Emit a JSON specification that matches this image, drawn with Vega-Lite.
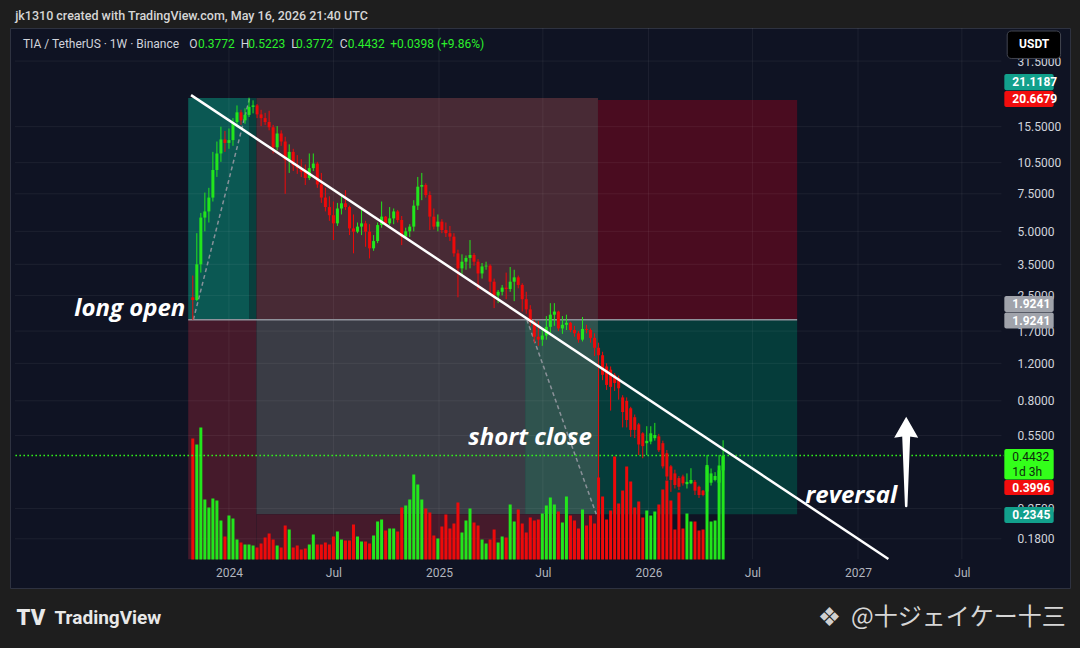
{
  "$schema": "https://vega.github.io/schema/vega-lite/v6.json",
  "width": 1060,
  "height": 560,
  "autosize": "none",
  "padding": {"left": 10, "top": 28, "right": 10, "bottom": 60},
  "background": "#1e1e1e",
  "config": {
    "view": {"fill": "#0f1323", "stroke": "#2e3240", "strokeWidth": 1},
    "font": "Roboto"
  },
  "datasets": {
    "candles": [
      {"d":"2023-10-30","o":2.45,"h":3.10,"l":1.92,"c":2.38,"v":121},
      {"d":"2023-11-06","o":2.38,"h":4.90,"l":2.35,"c":3.50,"v":115},
      {"d":"2023-11-13","o":3.50,"h":6.10,"l":3.20,"c":5.80,"v":132},
      {"d":"2023-11-20","o":5.80,"h":7.60,"l":5.00,"c":6.20,"v":60},
      {"d":"2023-11-27","o":6.20,"h":8.00,"l":5.50,"c":7.20,"v":52},
      {"d":"2023-12-04","o":7.20,"h":11.80,"l":6.90,"c":9.70,"v":61},
      {"d":"2023-12-11","o":9.70,"h":13.20,"l":9.00,"c":11.60,"v":59},
      {"d":"2023-12-18","o":11.60,"h":15.50,"l":10.60,"c":13.50,"v":39},
      {"d":"2023-12-25","o":13.50,"h":14.80,"l":11.80,"c":13.00,"v":23},
      {"d":"2024-01-01","o":13.00,"h":15.20,"l":12.20,"c":13.40,"v":44},
      {"d":"2024-01-08","o":13.40,"h":17.00,"l":12.60,"c":16.30,"v":41},
      {"d":"2024-01-15","o":16.30,"h":19.50,"l":15.40,"c":18.10,"v":20},
      {"d":"2024-01-22","o":18.10,"h":18.60,"l":15.80,"c":16.60,"v":17},
      {"d":"2024-01-29","o":16.60,"h":18.90,"l":16.00,"c":17.60,"v":15},
      {"d":"2024-02-05","o":17.60,"h":21.20,"l":17.20,"c":19.20,"v":15},
      {"d":"2024-02-12","o":19.20,"h":20.60,"l":17.90,"c":19.50,"v":14},
      {"d":"2024-02-19","o":19.50,"h":19.80,"l":17.00,"c":17.70,"v":12},
      {"d":"2024-02-26","o":17.70,"h":18.60,"l":15.60,"c":17.00,"v":16},
      {"d":"2024-03-04","o":17.00,"h":18.00,"l":15.80,"c":16.30,"v":22},
      {"d":"2024-03-11","o":16.30,"h":18.40,"l":14.90,"c":15.40,"v":26},
      {"d":"2024-03-18","o":15.40,"h":15.80,"l":11.60,"c":12.40,"v":20},
      {"d":"2024-03-25","o":12.40,"h":15.60,"l":12.00,"c":14.40,"v":14},
      {"d":"2024-04-01","o":14.40,"h":14.90,"l":12.60,"c":13.20,"v":12},
      {"d":"2024-04-08","o":13.20,"h":13.90,"l":7.50,"c":10.80,"v":34},
      {"d":"2024-04-15","o":10.80,"h":12.80,"l":9.40,"c":11.80,"v":30},
      {"d":"2024-04-22","o":11.80,"h":12.20,"l":9.60,"c":10.20,"v":12},
      {"d":"2024-04-29","o":10.20,"h":11.40,"l":9.30,"c":9.90,"v":14},
      {"d":"2024-05-06","o":9.90,"h":10.90,"l":9.00,"c":9.50,"v":10},
      {"d":"2024-05-13","o":9.50,"h":10.30,"l":8.25,"c":8.90,"v":11},
      {"d":"2024-05-20","o":8.90,"h":11.60,"l":8.70,"c":9.90,"v":15},
      {"d":"2024-05-27","o":9.90,"h":11.60,"l":9.60,"c":10.40,"v":25},
      {"d":"2024-06-03","o":10.40,"h":10.60,"l":8.00,"c":8.30,"v":15},
      {"d":"2024-06-10","o":8.30,"h":9.40,"l":6.80,"c":7.20,"v":15},
      {"d":"2024-06-17","o":7.20,"h":8.00,"l":6.20,"c":6.50,"v":17},
      {"d":"2024-06-24","o":6.50,"h":7.30,"l":5.60,"c":5.95,"v":15},
      {"d":"2024-07-01","o":5.95,"h":6.90,"l":4.55,"c":5.45,"v":23},
      {"d":"2024-07-08","o":5.45,"h":6.80,"l":5.30,"c":6.40,"v":28},
      {"d":"2024-07-15","o":6.40,"h":7.50,"l":6.00,"c":6.77,"v":20},
      {"d":"2024-07-22","o":6.77,"h":7.80,"l":6.30,"c":6.50,"v":19},
      {"d":"2024-07-29","o":6.50,"h":6.60,"l":4.80,"c":5.16,"v":19},
      {"d":"2024-08-05","o":5.16,"h":6.00,"l":3.94,"c":4.98,"v":35},
      {"d":"2024-08-12","o":4.98,"h":5.50,"l":4.90,"c":5.26,"v":23},
      {"d":"2024-08-19","o":5.26,"h":6.30,"l":4.80,"c":5.45,"v":18},
      {"d":"2024-08-26","o":5.45,"h":5.60,"l":4.23,"c":4.98,"v":18},
      {"d":"2024-09-02","o":4.98,"h":5.40,"l":3.73,"c":4.16,"v":16},
      {"d":"2024-09-09","o":4.16,"h":4.80,"l":4.05,"c":4.50,"v":24},
      {"d":"2024-09-16","o":4.50,"h":5.50,"l":4.40,"c":5.35,"v":38},
      {"d":"2024-09-23","o":5.35,"h":6.90,"l":5.20,"c":5.86,"v":40},
      {"d":"2024-09-30","o":5.86,"h":5.90,"l":5.30,"c":5.45,"v":29},
      {"d":"2024-10-07","o":5.45,"h":6.50,"l":5.35,"c":5.75,"v":31},
      {"d":"2024-10-14","o":5.75,"h":6.40,"l":5.40,"c":6.20,"v":31},
      {"d":"2024-10-21","o":6.20,"h":6.30,"l":5.50,"c":5.65,"v":28},
      {"d":"2024-10-28","o":5.65,"h":5.90,"l":4.31,"c":4.72,"v":52},
      {"d":"2024-11-04","o":4.72,"h":5.20,"l":4.60,"c":5.00,"v":54},
      {"d":"2024-11-11","o":5.00,"h":5.40,"l":4.70,"c":5.26,"v":60},
      {"d":"2024-11-18","o":5.26,"h":7.00,"l":5.00,"c":6.60,"v":85},
      {"d":"2024-11-25","o":6.60,"h":9.00,"l":6.30,"c":8.10,"v":75},
      {"d":"2024-12-02","o":8.10,"h":9.40,"l":7.00,"c":8.25,"v":60},
      {"d":"2024-12-09","o":8.25,"h":8.40,"l":7.20,"c":7.40,"v":51},
      {"d":"2024-12-16","o":7.40,"h":7.70,"l":5.07,"c":5.86,"v":47},
      {"d":"2024-12-23","o":5.86,"h":6.40,"l":5.10,"c":5.26,"v":24},
      {"d":"2024-12-30","o":5.26,"h":6.00,"l":5.00,"c":5.55,"v":21},
      {"d":"2025-01-06","o":5.55,"h":5.70,"l":4.90,"c":5.07,"v":33},
      {"d":"2025-01-13","o":5.07,"h":5.50,"l":4.70,"c":4.90,"v":45},
      {"d":"2025-01-20","o":4.90,"h":5.30,"l":4.50,"c":4.72,"v":31},
      {"d":"2025-01-27","o":4.72,"h":4.90,"l":3.80,"c":3.94,"v":36},
      {"d":"2025-02-03","o":3.94,"h":4.10,"l":2.45,"c":3.35,"v":57},
      {"d":"2025-02-10","o":3.35,"h":3.90,"l":3.10,"c":3.60,"v":27},
      {"d":"2025-02-17","o":3.60,"h":3.85,"l":3.30,"c":3.75,"v":39},
      {"d":"2025-02-24","o":3.75,"h":4.55,"l":3.35,"c":3.87,"v":51},
      {"d":"2025-03-03","o":3.87,"h":3.95,"l":3.45,"c":3.60,"v":37},
      {"d":"2025-03-10","o":3.60,"h":3.70,"l":2.65,"c":3.17,"v":34},
      {"d":"2025-03-17","o":3.17,"h":3.55,"l":3.00,"c":3.42,"v":20},
      {"d":"2025-03-24","o":3.42,"h":3.60,"l":3.30,"c":3.45,"v":16},
      {"d":"2025-03-31","o":3.45,"h":3.50,"l":2.50,"c":2.90,"v":20},
      {"d":"2025-04-07","o":2.90,"h":3.00,"l":2.18,"c":2.50,"v":30},
      {"d":"2025-04-14","o":2.50,"h":2.65,"l":2.30,"c":2.60,"v":17},
      {"d":"2025-04-21","o":2.60,"h":2.80,"l":2.50,"c":2.72,"v":23},
      {"d":"2025-04-28","o":2.72,"h":3.20,"l":2.40,"c":2.68,"v":22},
      {"d":"2025-05-05","o":2.68,"h":3.40,"l":2.60,"c":2.90,"v":55},
      {"d":"2025-05-12","o":2.90,"h":3.30,"l":2.35,"c":3.04,"v":38},
      {"d":"2025-05-19","o":3.04,"h":3.10,"l":2.70,"c":2.80,"v":50},
      {"d":"2025-05-26","o":2.80,"h":2.85,"l":2.10,"c":2.40,"v":36},
      {"d":"2025-06-02","o":2.40,"h":2.60,"l":2.05,"c":2.15,"v":27},
      {"d":"2025-06-09","o":2.15,"h":2.25,"l":1.80,"c":1.88,"v":42},
      {"d":"2025-06-16","o":1.88,"h":1.92,"l":1.50,"c":1.60,"v":39},
      {"d":"2025-06-23","o":1.60,"h":1.90,"l":1.45,"c":1.55,"v":40},
      {"d":"2025-06-30","o":1.55,"h":1.75,"l":1.45,"c":1.62,"v":46},
      {"d":"2025-07-07","o":1.62,"h":2.00,"l":1.55,"c":1.78,"v":54},
      {"d":"2025-07-14","o":1.78,"h":2.30,"l":1.62,"c":2.03,"v":62},
      {"d":"2025-07-21","o":2.03,"h":2.30,"l":1.80,"c":2.10,"v":55},
      {"d":"2025-07-28","o":2.10,"h":2.12,"l":1.70,"c":1.75,"v":48},
      {"d":"2025-08-04","o":1.75,"h":2.00,"l":1.65,"c":1.82,"v":37},
      {"d":"2025-08-11","o":1.82,"h":2.03,"l":1.72,"c":1.86,"v":63},
      {"d":"2025-08-18","o":1.86,"h":1.88,"l":1.68,"c":1.72,"v":44},
      {"d":"2025-08-25","o":1.72,"h":1.80,"l":1.60,"c":1.66,"v":39},
      {"d":"2025-09-01","o":1.66,"h":1.70,"l":1.50,"c":1.55,"v":31},
      {"d":"2025-09-08","o":1.55,"h":1.98,"l":1.52,"c":1.74,"v":50},
      {"d":"2025-09-15","o":1.74,"h":1.82,"l":1.66,"c":1.72,"v":34},
      {"d":"2025-09-22","o":1.72,"h":1.75,"l":1.50,"c":1.58,"v":44},
      {"d":"2025-09-29","o":1.58,"h":1.66,"l":1.30,"c":1.42,"v":36},
      {"d":"2025-10-06","o":1.42,"h":1.50,"l":0.225,"c":1.31,"v":82},
      {"d":"2025-10-13","o":1.31,"h":1.36,"l":1.00,"c":1.06,"v":63},
      {"d":"2025-10-20","o":1.16,"h":1.20,"l":0.90,"c":0.95,"v":40},
      {"d":"2025-10-27","o":1.12,"h":1.16,"l":0.72,"c":0.93,"v":49},
      {"d":"2025-11-03","o":1.06,"h":1.08,"l":0.89,"c":0.97,"v":103},
      {"d":"2025-11-10","o":1.02,"h":1.05,"l":0.81,"c":0.916,"v":56},
      {"d":"2025-11-17","o":0.83,"h":0.85,"l":0.60,"c":0.709,"v":69},
      {"d":"2025-11-24","o":0.80,"h":0.83,"l":0.60,"c":0.65,"v":93},
      {"d":"2025-12-01","o":0.738,"h":0.75,"l":0.542,"c":0.584,"v":78},
      {"d":"2025-12-08","o":0.67,"h":0.69,"l":0.535,"c":0.584,"v":52},
      {"d":"2025-12-15","o":0.62,"h":0.63,"l":0.445,"c":0.499,"v":58},
      {"d":"2025-12-22","o":0.563,"h":0.57,"l":0.43,"c":0.49,"v":42},
      {"d":"2025-12-29","o":0.506,"h":0.608,"l":0.445,"c":0.519,"v":49},
      {"d":"2026-01-05","o":0.515,"h":0.608,"l":0.50,"c":0.563,"v":44},
      {"d":"2026-01-12","o":0.534,"h":0.63,"l":0.52,"c":0.553,"v":48},
      {"d":"2026-01-19","o":0.545,"h":0.56,"l":0.46,"c":0.469,"v":55},
      {"d":"2026-01-26","o":0.506,"h":0.52,"l":0.385,"c":0.394,"v":70},
      {"d":"2026-02-02","o":0.454,"h":0.47,"l":0.34,"c":0.353,"v":79},
      {"d":"2026-02-09","o":0.394,"h":0.40,"l":0.299,"c":0.340,"v":59},
      {"d":"2026-02-16","o":0.365,"h":0.38,"l":0.31,"c":0.322,"v":30},
      {"d":"2026-02-23","o":0.347,"h":0.355,"l":0.305,"c":0.316,"v":67},
      {"d":"2026-03-02","o":0.353,"h":0.36,"l":0.32,"c":0.328,"v":31},
      {"d":"2026-03-09","o":0.325,"h":0.365,"l":0.31,"c":0.333,"v":46},
      {"d":"2026-03-16","o":0.328,"h":0.386,"l":0.325,"c":0.340,"v":38},
      {"d":"2026-03-23","o":0.333,"h":0.34,"l":0.289,"c":0.303,"v":38},
      {"d":"2026-03-30","o":0.316,"h":0.32,"l":0.28,"c":0.289,"v":29},
      {"d":"2026-04-06","o":0.303,"h":0.305,"l":0.285,"c":0.289,"v":30},
      {"d":"2026-04-13","o":0.30,"h":0.445,"l":0.295,"c":0.40,"v":93},
      {"d":"2026-04-20","o":0.33,"h":0.385,"l":0.32,"c":0.365,"v":38},
      {"d":"2026-04-27","o":0.34,"h":0.37,"l":0.335,"c":0.355,"v":39},
      {"d":"2026-05-04","o":0.33,"h":0.445,"l":0.325,"c":0.3772,"v":94},
      {"d":"2026-05-11","o":0.3772,"h":0.5223,"l":0.3772,"c":0.4432,"v":103}
    ],
    "regions": [
      {"z":"long_active","d":"2023-10-22","d2":"2024-02-06","p":1.9241,"p2":21.1187},
      {"z":"long_target","d":"2024-02-06","d2":"2024-02-18","p":1.9241,"p2":21.1187},
      {"z":"overlap_top","d":"2024-02-18","d2":"2025-10-05","p":1.9241,"p2":21.1187},
      {"z":"short_stop","d":"2025-10-05","d2":"2026-09-17","p":1.9241,"p2":20.6679},
      {"z":"long_stop","d":"2023-10-22","d2":"2024-02-18","p":0.1443,"p2":1.9241},
      {"z":"overlap_bottom","d":"2024-02-18","d2":"2025-05-31","p":0.2345,"p2":1.9241},
      {"z":"short_active","d":"2025-05-31","d2":"2025-10-05","p":0.2345,"p2":1.9241},
      {"z":"short_target","d":"2025-10-05","d2":"2026-09-17","p":0.2345,"p2":1.9241},
      {"z":"long_stop","d":"2024-02-18","d2":"2025-10-05","p":0.1443,"p2":0.2345}
    ],
    "hgrid": [
      {"p":31.5},{"p":15.5},{"p":10.5},{"p":7.5},{"p":5},{"p":3.5},{"p":2.5},
      {"p":1.7},{"p":1.2},{"p":0.8},{"p":0.55},{"p":0.25},{"p":0.18}
    ],
    "vgrid": [
      {"d":"2024-01-01"},{"d":"2024-07-01"},{"d":"2025-01-01"},{"d":"2025-07-01"},
      {"d":"2026-01-01"},{"d":"2026-07-01"},{"d":"2027-01-01"},{"d":"2027-07-01"}
    ],
    "trades": [
      {"id":"long","d":"2023-10-31","p":1.9241},
      {"id":"long","d":"2024-02-06","p":21.1187},
      {"id":"short","d":"2025-06-03","p":1.9241},
      {"id":"short","d":"2025-10-02","p":0.2345}
    ],
    "trend": [
      {"d":"2023-10-27","p":21.8},
      {"d":"2027-02-23","p":0.1447}
    ],
    "header": [
      {"t":"TIA / TetherUS · 1W · Binance","k":"g","d":"2023-01-07","p":37.96},
      {"t":"O","k":"g","d":"2023-10-24","p":37.96},
      {"t":"0.3772","k":"v","d":"2023-11-08","p":37.96},
      {"t":"H","k":"g","d":"2024-01-21T12:00:00Z","p":37.96},
      {"t":"0.5223","k":"v","d":"2024-02-03T17:00:00Z","p":37.96},
      {"t":"L","k":"g","d":"2024-04-18T17:00:00Z","p":37.96},
      {"t":"0.3772","k":"v","d":"2024-04-27","p":37.96},
      {"t":"C","k":"g","d":"2024-07-12","p":37.96},
      {"t":"0.4432","k":"v","d":"2024-07-26","p":37.96},
      {"t":"+0.0398 (+9.86%)","k":"v","d":"2024-10-08","p":37.96}
    ],
    "tagboxes": [
      {"k":"teal","d":"2027-09-13","d2":"2027-12-08","p":23.0,"p2":27.4},
      {"k":"red","d":"2027-09-13","d2":"2027-12-08","p":19.17,"p2":22.8},
      {"k":"gray","d":"2027-09-13","d2":"2027-12-08","p":2.089,"p2":2.484},
      {"k":"gray","d":"2027-09-13","d2":"2027-12-08","p":1.748,"p2":2.078},
      {"k":"green","d":"2027-09-13","d2":"2027-12-08","p":0.3416,"p2":0.475},
      {"k":"red","d":"2027-09-13","d2":"2027-12-08","p":0.289,"p2":0.3398},
      {"k":"teal","d":"2027-09-13","d2":"2027-12-08","p":0.2135,"p2":0.2538}
    ],
    "tagtext": [
      {"t":"21.1187","d":"2027-09-27","p":25.1},
      {"t":"20.6679","d":"2027-09-27","p":20.9},
      {"t":"1.9241","d":"2027-09-27","p":2.278},
      {"t":"1.9241","d":"2027-09-27","p":1.906},
      {"t":"0.3996","d":"2027-09-27","p":0.3133},
      {"t":"0.2345","d":"2027-09-27","p":0.2328}
    ],
    "tagtext_live": [
      {"t":"0.4432","d":"2027-09-27","p":0.438},
      {"t":"1d 3h","d":"2027-09-27","p":0.3725}
    ]
  },
  "layer": [
    {
      "data": {"name": "regions"},
      "mark": {"type": "rect"},
      "encoding": {
        "x": {
          "field": "d", "type": "temporal",
          "scale": {"type": "utc", "domain": [{"year": 2022, "month": 12, "date": 24, "hours": 5, "utc": true}, {"year": 2027, "month": 12, "date": 27, "hours": 17, "utc": true}]},
          "axis": {
            "orient": "bottom", "offset": -28, "title": null, "grid": false, "domain": false, "ticks": false,
            "values": [1704067200000, 1719792000000, 1735689600000, 1751328000000, 1767225600000, 1782864000000, 1798761600000, 1814400000000],
            "labelExpr": "utcFormat(datum.value, '%m') == '01' ? utcFormat(datum.value, '%Y') : 'Jul'",
            "labelColor": "#b2b5be", "labelFont": "Roboto", "labelFontSize": 12, "labelPadding": 7,
            "labelOverlap": false, "labelFlush": false, "zindex": 1
          }
        },
        "x2": {"field": "d2"},
        "y": {"field": "p", "type": "quantitative", "scale": {"type": "log", "domain": [0.10574, 45.04], "nice": false}, "axis": null},
        "y2": {"field": "p2"},
        "color": {
          "field": "z", "type": "nominal", "legend": null,
          "scale": {
            "domain": ["long_active", "long_target", "overlap_top", "short_stop", "long_stop", "overlap_bottom", "short_active", "short_target"],
            "range": ["#0b5853", "#083f3d", "#482a35", "#4a0c20", "#451a2b", "#3a3c45", "#2f534e", "#053c3a"]
          }
        }
      }
    },
    {
      "data": {"name": "hgrid"},
      "mark": {"type": "rule", "color": "#ffffff", "opacity": 0.06, "strokeWidth": 1},
      "encoding": {
        "x": {"datum": {"year": 2022, "month": 12, "date": 24, "hours": 5, "utc": true}, "type": "temporal", "scale": {"type": "utc", "domain": [{"year": 2022, "month": 12, "date": 24, "hours": 5, "utc": true}, {"year": 2027, "month": 12, "date": 27, "hours": 17, "utc": true}]}, "axis": null},
        "x2": {"datum": {"year": 2027, "month": 9, "date": 8, "utc": true}},
        "y": {"field": "p", "type": "quantitative", "scale": {"type": "log", "domain": [0.10574, 45.04], "nice": false}, "axis": null}
      }
    },
    {
      "data": {"name": "vgrid"},
      "mark": {"type": "rule", "color": "#ffffff", "opacity": 0.06, "strokeWidth": 1},
      "encoding": {
        "x": {"field": "d", "type": "temporal", "scale": {"type": "utc", "domain": [{"year": 2022, "month": 12, "date": 24, "hours": 5, "utc": true}, {"year": 2027, "month": 12, "date": 27, "hours": 17, "utc": true}]}, "axis": null},
        "y": {"datum": 0.1443, "type": "quantitative", "scale": {"type": "log", "domain": [0.10574, 45.04], "nice": false}, "axis": null},
        "y2": {"datum": 45.04}
      }
    },
    {
      "data": {"values": [{"p": 1.9241}]},
      "mark": {"type": "rule", "color": "#8f929b", "strokeWidth": 1.5},
      "encoding": {
        "x": {"datum": {"year": 2023, "month": 10, "date": 22, "utc": true}, "type": "temporal", "scale": {"type": "utc", "domain": [{"year": 2022, "month": 12, "date": 24, "hours": 5, "utc": true}, {"year": 2027, "month": 12, "date": 27, "hours": 17, "utc": true}]}, "axis": null},
        "x2": {"datum": {"year": 2026, "month": 9, "date": 17, "utc": true}},
        "y": {"field": "p", "type": "quantitative", "scale": {"type": "log", "domain": [0.10574, 45.04], "nice": false}, "axis": null}
      }
    },
    {
      "data": {"name": "trades"},
      "mark": {"type": "line", "color": "#9598a1", "strokeWidth": 1.5, "strokeDash": [4, 3], "opacity": 0.9},
      "encoding": {
        "x": {"field": "d", "type": "temporal", "scale": {"type": "utc", "domain": [{"year": 2022, "month": 12, "date": 24, "hours": 5, "utc": true}, {"year": 2027, "month": 12, "date": 27, "hours": 17, "utc": true}]}, "axis": null},
        "y": {"field": "p", "type": "quantitative", "scale": {"type": "log", "domain": [0.10574, 45.04], "nice": false}, "axis": null},
        "detail": {"field": "id"}
      }
    },
    {
      "data": {"name": "candles"},
      "mark": {"type": "bar", "width": 3},
      "encoding": {
        "x": {"field": "d", "type": "temporal", "scale": {"type": "utc", "domain": [{"year": 2022, "month": 12, "date": 24, "hours": 5, "utc": true}, {"year": 2027, "month": 12, "date": 27, "hours": 17, "utc": true}]}, "axis": null},
        "y": {"field": "v", "type": "quantitative", "scale": {"type": "linear", "domain": [-28.5, 531.5], "nice": false, "zero": false}, "axis": null},
        "y2": {"datum": 0},
        "color": {"condition": {"test": "datum.c >= datum.o", "value": "#22e61c"}, "value": "#ee0a0a"}
      }
    },
    {
      "data": {"values": [{"p": 0.4432}]},
      "mark": {"type": "rule", "color": "#33ff1a", "strokeWidth": 1.5, "strokeDash": [1.5, 2.5]},
      "encoding": {
        "x": {"datum": {"year": 2022, "month": 12, "date": 25, "utc": true}, "type": "temporal", "scale": {"type": "utc", "domain": [{"year": 2022, "month": 12, "date": 24, "hours": 5, "utc": true}, {"year": 2027, "month": 12, "date": 27, "hours": 17, "utc": true}]}, "axis": null},
        "x2": {"datum": {"year": 2027, "month": 9, "date": 12, "utc": true}},
        "y": {"field": "p", "type": "quantitative", "scale": {"type": "log", "domain": [0.10574, 45.04], "nice": false}, "axis": null}
      }
    },
    {
      "data": {"name": "candles"},
      "mark": {"type": "rule", "strokeWidth": 1},
      "encoding": {
        "x": {"field": "d", "type": "temporal", "scale": {"type": "utc", "domain": [{"year": 2022, "month": 12, "date": 24, "hours": 5, "utc": true}, {"year": 2027, "month": 12, "date": 27, "hours": 17, "utc": true}]}, "axis": null},
        "y": {
          "field": "l", "type": "quantitative",
          "scale": {"type": "log", "domain": [0.10574, 45.04], "nice": false},
          "axis": {
            "orient": "right", "offset": -62, "title": null, "grid": false, "domain": false, "ticks": false,
            "values": [0.18, 0.25, 0.55, 0.8, 1.2, 1.7, 2.5, 3.5, 5, 7.5, 10.5, 15.5, 31.5],
            "format": ".4f", "labelAlign": "left", "labelBaseline": "middle", "labelPadding": 9,
            "labelColor": "#d1d4dc", "labelFont": "Roboto", "labelFontSize": 12,
            "labelOverlap": false, "labelFlush": false, "zindex": 0
          }
        },
        "y2": {"field": "h"},
        "color": {"condition": {"test": "datum.c >= datum.o", "value": "#22e61c"}, "value": "#ee0a0a"}
      }
    },
    {
      "data": {"name": "candles"},
      "mark": {"type": "bar", "width": 3},
      "encoding": {
        "x": {"field": "d", "type": "temporal", "scale": {"type": "utc", "domain": [{"year": 2022, "month": 12, "date": 24, "hours": 5, "utc": true}, {"year": 2027, "month": 12, "date": 27, "hours": 17, "utc": true}]}, "axis": null},
        "y": {"field": "o", "type": "quantitative", "scale": {"type": "log", "domain": [0.10574, 45.04], "nice": false}, "axis": null},
        "y2": {"field": "c"},
        "color": {"condition": {"test": "datum.c >= datum.o", "value": "#22e61c"}, "value": "#ee0a0a"}
      }
    },
    {
      "data": {"name": "trend"},
      "mark": {"type": "line", "color": "#ffffff", "strokeWidth": 2.5},
      "encoding": {
        "x": {"field": "d", "type": "temporal", "scale": {"type": "utc", "domain": [{"year": 2022, "month": 12, "date": 24, "hours": 5, "utc": true}, {"year": 2027, "month": 12, "date": 27, "hours": 17, "utc": true}]}, "axis": null},
        "y": {"field": "p", "type": "quantitative", "scale": {"type": "log", "domain": [0.10574, 45.04], "nice": false}, "axis": null}
      }
    },
    {
      "data": {"values": [{"t": "long open", "d": "2023-10-17", "p": 2.158}]},
      "mark": {"type": "text", "align": "right", "baseline": "middle", "font": "Open Sans", "fontSize": 24, "fontWeight": "bold", "fontStyle": "italic", "color": "#ffffff"},
      "encoding": {
        "x": {"field": "d", "type": "temporal", "scale": {"type": "utc", "domain": [{"year": 2022, "month": 12, "date": 24, "hours": 5, "utc": true}, {"year": 2027, "month": 12, "date": 27, "hours": 17, "utc": true}]}, "axis": null},
        "y": {"field": "p", "type": "quantitative", "scale": {"type": "log", "domain": [0.10574, 45.04], "nice": false}, "axis": null},
        "text": {"field": "t"}
      }
    },
    {
      "data": {"values": [{"t": "short close", "d": "2025-02-21", "p": 0.535}, {"t": "reversal", "d": "2026-10-01", "p": 0.286}]},
      "mark": {"type": "text", "align": "left", "baseline": "middle", "font": "Open Sans", "fontSize": 24, "fontWeight": "bold", "fontStyle": "italic", "color": "#ffffff"},
      "encoding": {
        "x": {"field": "d", "type": "temporal", "scale": {"type": "utc", "domain": [{"year": 2022, "month": 12, "date": 24, "hours": 5, "utc": true}, {"year": 2027, "month": 12, "date": 27, "hours": 17, "utc": true}]}, "axis": null},
        "y": {"field": "p", "type": "quantitative", "scale": {"type": "log", "domain": [0.10574, 45.04], "nice": false}, "axis": null},
        "text": {"field": "t"}
      }
    },
    {
      "data": {"values": [{"d": "2027-03-26", "p": 0.2566, "w": 2.5}, {"d": "2027-03-26", "p": 0.547, "w": 8}]},
      "mark": {"type": "trail", "color": "#ffffff"},
      "encoding": {
        "x": {"field": "d", "type": "temporal", "scale": {"type": "utc", "domain": [{"year": 2022, "month": 12, "date": 24, "hours": 5, "utc": true}, {"year": 2027, "month": 12, "date": 27, "hours": 17, "utc": true}]}, "axis": null},
        "y": {"field": "p", "type": "quantitative", "scale": {"type": "log", "domain": [0.10574, 45.04], "nice": false}, "axis": null},
        "size": {"field": "w", "type": "quantitative", "scale": null, "legend": null}
      }
    },
    {
      "data": {"values": [{"d": "2027-03-26", "p": 0.5917}]},
      "mark": {"type": "point", "shape": "M0,-1L1,0.75L0,0.6L-1,0.75Z", "filled": true, "size": 576, "color": "#ffffff", "opacity": 1},
      "encoding": {
        "x": {"field": "d", "type": "temporal", "scale": {"type": "utc", "domain": [{"year": 2022, "month": 12, "date": 24, "hours": 5, "utc": true}, {"year": 2027, "month": 12, "date": 27, "hours": 17, "utc": true}]}, "axis": null},
        "y": {"field": "p", "type": "quantitative", "scale": {"type": "log", "domain": [0.10574, 45.04], "nice": false}, "axis": null}
      }
    },
    {
      "data": {"name": "tagboxes"},
      "mark": {"type": "rect", "cornerRadius": 2},
      "encoding": {
        "x": {"field": "d", "type": "temporal", "scale": {"type": "utc", "domain": [{"year": 2022, "month": 12, "date": 24, "hours": 5, "utc": true}, {"year": 2027, "month": 12, "date": 27, "hours": 17, "utc": true}]}, "axis": null},
        "x2": {"field": "d2"},
        "y": {"field": "p", "type": "quantitative", "scale": {"type": "log", "domain": [0.10574, 45.04], "nice": false}, "axis": null},
        "y2": {"field": "p2"},
        "color": {"field": "k", "type": "nominal", "legend": null, "scale": {"domain": ["teal", "red", "gray", "green"], "range": ["#12a08c", "#f20d0d", "#a0a3ab", "#33ff1a"]}}
      }
    },
    {
      "data": {"name": "tagtext"},
      "mark": {"type": "text", "align": "left", "baseline": "middle", "font": "Roboto", "fontSize": 12, "fontWeight": "bold", "color": "#ffffff"},
      "encoding": {
        "x": {"field": "d", "type": "temporal", "scale": {"type": "utc", "domain": [{"year": 2022, "month": 12, "date": 24, "hours": 5, "utc": true}, {"year": 2027, "month": 12, "date": 27, "hours": 17, "utc": true}]}, "axis": null},
        "y": {"field": "p", "type": "quantitative", "scale": {"type": "log", "domain": [0.10574, 45.04], "nice": false}, "axis": null},
        "text": {"field": "t"}
      }
    },
    {
      "data": {"name": "tagtext_live"},
      "mark": {"type": "text", "align": "left", "baseline": "middle", "font": "Roboto", "fontSize": 12, "color": "#0d2b0d"},
      "encoding": {
        "x": {"field": "d", "type": "temporal", "scale": {"type": "utc", "domain": [{"year": 2022, "month": 12, "date": 24, "hours": 5, "utc": true}, {"year": 2027, "month": 12, "date": 27, "hours": 17, "utc": true}]}, "axis": null},
        "y": {"field": "p", "type": "quantitative", "scale": {"type": "log", "domain": [0.10574, 45.04], "nice": false}, "axis": null},
        "text": {"field": "t"}
      }
    },
    {
      "data": {"values": [{"d": "2027-09-18", "d2": "2027-12-20", "p": 32.4, "p2": 43.6}]},
      "mark": {"type": "rect", "cornerRadius": 4, "fill": "#000000", "stroke": "#434651", "strokeWidth": 1},
      "encoding": {
        "x": {"field": "d", "type": "temporal", "scale": {"type": "utc", "domain": [{"year": 2022, "month": 12, "date": 24, "hours": 5, "utc": true}, {"year": 2027, "month": 12, "date": 27, "hours": 17, "utc": true}]}, "axis": null},
        "x2": {"field": "d2"},
        "y": {"field": "p", "type": "quantitative", "scale": {"type": "log", "domain": [0.10574, 45.04], "nice": false}, "axis": null},
        "y2": {"field": "p2"}
      }
    },
    {
      "data": {"values": [{"t": "USDT", "d": "2027-11-04", "p": 37.9}]},
      "mark": {"type": "text", "align": "center", "baseline": "middle", "font": "Roboto", "fontSize": 12, "fontWeight": "bold", "color": "#ffffff"},
      "encoding": {
        "x": {"field": "d", "type": "temporal", "scale": {"type": "utc", "domain": [{"year": 2022, "month": 12, "date": 24, "hours": 5, "utc": true}, {"year": 2027, "month": 12, "date": 27, "hours": 17, "utc": true}]}, "axis": null},
        "y": {"field": "p", "type": "quantitative", "scale": {"type": "log", "domain": [0.10574, 45.04], "nice": false}, "axis": null},
        "text": {"field": "t"}
      }
    },
    {
      "data": {"name": "header"},
      "mark": {"type": "text", "align": "left", "baseline": "middle", "font": "Roboto", "fontSize": 12},
      "encoding": {
        "x": {"field": "d", "type": "temporal", "scale": {"type": "utc", "domain": [{"year": 2022, "month": 12, "date": 24, "hours": 5, "utc": true}, {"year": 2027, "month": 12, "date": 27, "hours": 17, "utc": true}]}, "axis": null},
        "y": {"field": "p", "type": "quantitative", "scale": {"type": "log", "domain": [0.10574, 45.04], "nice": false}, "axis": null},
        "text": {"field": "t"},
        "color": {"field": "k", "type": "nominal", "legend": null, "scale": {"domain": ["g", "v"], "range": ["#d1d4dc", "#2bf02b"]}}
      }
    },
    {
      "data": {"values": [{"t": "jk1310 created with TradingView.com, May 16, 2026 21:40 UTC", "d": "2022-12-24T12:00:00Z", "p": 51.5}]},
      "mark": {"type": "text", "align": "left", "baseline": "middle", "font": "Roboto", "fontSize": 12.5, "fontWeight": 500, "color": "#d6d6d6"},
      "encoding": {
        "x": {"field": "d", "type": "temporal", "scale": {"type": "utc", "domain": [{"year": 2022, "month": 12, "date": 24, "hours": 5, "utc": true}, {"year": 2027, "month": 12, "date": 27, "hours": 17, "utc": true}]}, "axis": null},
        "y": {"field": "p", "type": "quantitative", "scale": {"type": "log", "domain": [0.10574, 45.04], "nice": false}, "axis": null},
        "text": {"field": "t"}
      }
    },
    {
      "data": {"values": [{"t": "TV", "d": "2022-12-27", "p": 0.0764}]},
      "mark": {"type": "text", "align": "left", "baseline": "middle", "font": "Roboto", "fontSize": 22, "fontWeight": 900, "color": "#e8e8e8"},
      "encoding": {
        "x": {"field": "d", "type": "temporal", "scale": {"type": "utc", "domain": [{"year": 2022, "month": 12, "date": 24, "hours": 5, "utc": true}, {"year": 2027, "month": 12, "date": 27, "hours": 17, "utc": true}]}, "axis": null},
        "y": {"field": "p", "type": "quantitative", "scale": {"type": "log", "domain": [0.10574, 45.04], "nice": false}, "axis": null},
        "text": {"field": "t"}
      }
    },
    {
      "data": {"values": [{"t": "TradingView", "d": "2023-03-03", "p": 0.0764}]},
      "mark": {"type": "text", "align": "left", "baseline": "middle", "font": "Roboto", "fontSize": 19, "fontWeight": "bold", "color": "#e8e8e8"},
      "encoding": {
        "x": {"field": "d", "type": "temporal", "scale": {"type": "utc", "domain": [{"year": 2022, "month": 12, "date": 24, "hours": 5, "utc": true}, {"year": 2027, "month": 12, "date": 27, "hours": 17, "utc": true}]}, "axis": null},
        "y": {"field": "p", "type": "quantitative", "scale": {"type": "log", "domain": [0.10574, 45.04], "nice": false}, "axis": null},
        "text": {"field": "t"}
      }
    },
    {
      "data": {"values": [{"t": "❖", "d": "2026-11-12", "p": 0.0764}]},
      "mark": {"type": "text", "align": "center", "baseline": "middle", "font": "DejaVu Sans", "fontSize": 26, "color": "#d0d0d0"},
      "encoding": {
        "x": {"field": "d", "type": "temporal", "scale": {"type": "utc", "domain": [{"year": 2022, "month": 12, "date": 24, "hours": 5, "utc": true}, {"year": 2027, "month": 12, "date": 27, "hours": 17, "utc": true}]}, "axis": null},
        "y": {"field": "p", "type": "quantitative", "scale": {"type": "log", "domain": [0.10574, 45.04], "nice": false}, "axis": null},
        "text": {"field": "t"}
      }
    },
    {
      "data": {"values": [{"t": "@十ジェイケー十三", "d": "2027-12-29", "p": 0.0764}]},
      "mark": {"type": "text", "align": "right", "baseline": "middle", "font": "Noto Sans CJK JP", "fontSize": 24, "color": "#d6d6d6"},
      "encoding": {
        "x": {"field": "d", "type": "temporal", "scale": {"type": "utc", "domain": [{"year": 2022, "month": 12, "date": 24, "hours": 5, "utc": true}, {"year": 2027, "month": 12, "date": 27, "hours": 17, "utc": true}]}, "axis": null},
        "y": {"field": "p", "type": "quantitative", "scale": {"type": "log", "domain": [0.10574, 45.04], "nice": false}, "axis": null},
        "text": {"field": "t"}
      }
    }
  ],
  "resolve": {"scale": {"y": "independent", "color": "independent"}, "axis": {"x": "independent"}}
}
